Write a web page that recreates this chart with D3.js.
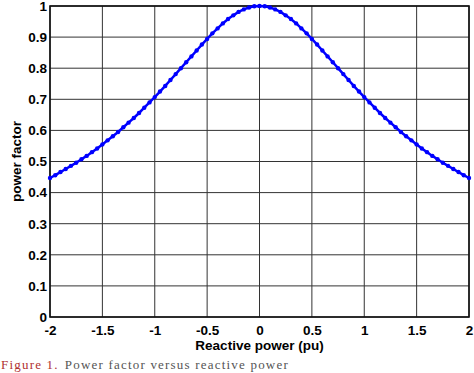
<!DOCTYPE html>
<html><head><meta charset="utf-8">
<script src="https://cdn.jsdelivr.net/npm/d3@7"></script>
<style>body{margin:0;background:#fff}svg{display:block}</style>
</head><body>
<script>
const qValues = [-2.00,-1.95,-1.90,-1.85,-1.80,-1.75,-1.70,-1.65,-1.60,-1.55,-1.50,-1.45,-1.40,-1.35,-1.30,-1.25,-1.20,-1.15,-1.10,-1.05,-1.00,-0.95,-0.90,-0.85,-0.80,-0.75,-0.70,-0.65,-0.60,-0.55,-0.50,-0.45,-0.40,-0.35,-0.30,-0.25,-0.20,-0.15,-0.10,-0.05,0.00,0.05,0.10,0.15,0.20,0.25,0.30,0.35,0.40,0.45,0.50,0.55,0.60,0.65,0.70,0.75,0.80,0.85,0.90,0.95,1.00,1.05,1.10,1.15,1.20,1.25,1.30,1.35,1.40,1.45,1.50,1.55,1.60,1.65,1.70,1.75,1.80,1.85,1.90,1.95,2.00];
const pfValues = [0.447,0.456,0.466,0.476,0.486,0.496,0.507,0.518,0.530,0.542,0.555,0.568,0.581,0.595,0.610,0.625,0.640,0.656,0.673,0.690,0.707,0.725,0.743,0.762,0.781,0.800,0.819,0.838,0.857,0.876,0.894,0.912,0.928,0.944,0.958,0.970,0.981,0.989,0.995,0.999,1.000,0.999,0.995,0.989,0.981,0.970,0.958,0.944,0.928,0.912,0.894,0.876,0.857,0.838,0.819,0.800,0.781,0.762,0.743,0.725,0.707,0.690,0.673,0.656,0.640,0.625,0.610,0.595,0.581,0.568,0.555,0.542,0.530,0.518,0.507,0.496,0.486,0.476,0.466,0.456,0.447];
const xTicks = [-2,-1.5,-1,-0.5,0,0.5,1,1.5,2];
const yTicks = [0,0.1,0.2,0.3,0.4,0.5,0.6,0.7,0.8,0.9,1];
const xLabel = "Reactive power (pu)";
const yLabel = "power factor";
const captionLead = "Figure 1.";
const captionText = "Power factor versus reactive power";

const W = 474, H = 373;
const m = {left: 50, right: 5, top: 6, bottom: 56};
const svg = d3.select("body").append("svg").attr("width", W).attr("height", H);
const x = d3.scaleLinear().domain([-2, 2]).range([m.left, W - m.right]);
const y = d3.scaleLinear().domain([0, 1]).range([H - m.bottom, m.top]);
const font = "'Liberation Sans', Arial, Helvetica, sans-serif";
const fs = 13.5;

// grid
svg.append("g").selectAll("line").data(xTicks).join("line")
  .attr("x1", d => x(d)).attr("x2", d => x(d)).attr("y1", y(0)).attr("y2", y(1))
  .attr("stroke", "#333").attr("stroke-width", 1);
svg.append("g").selectAll("line").data(yTicks).join("line")
  .attr("x1", x(-2)).attr("x2", x(2)).attr("y1", d => y(d)).attr("y2", d => y(d))
  .attr("stroke", "#333").attr("stroke-width", 1);

// axes
const fmt = d => String(d);
const xAxis = svg.append("g").attr("transform", `translate(0,${y(0)})`)
  .call(d3.axisBottom(x).tickValues(xTicks).tickSize(0).tickPadding(8).tickFormat(fmt));
const yAxis = svg.append("g").attr("transform", `translate(${x(-2)},0)`)
  .call(d3.axisLeft(y).tickValues(yTicks).tickSize(0).tickPadding(3).tickFormat(fmt));
[xAxis, yAxis].forEach(g => {
  g.select(".domain").remove();
  g.selectAll("text").attr("font-family", font).attr("font-weight", "bold").attr("font-size", fs).attr("fill", "#000");
});

// frame
svg.append("rect").attr("x", x(-2)).attr("y", y(1)).attr("width", x(2) - x(-2)).attr("height", y(0) - y(1))
  .attr("fill", "none").attr("stroke", "#111").attr("stroke-width", 1.6);

// curve
const pts = qValues.map((q, i) => [q, pfValues[i]]);
svg.append("path").datum(pts)
  .attr("d", d3.line().x(d => x(d[0])).y(d => y(d[1])))
  .attr("fill", "none").attr("stroke", "#0000ff").attr("stroke-width", 2.5);
svg.append("g").selectAll("circle").data(pts).join("circle")
  .attr("cx", d => x(d[0])).attr("cy", d => y(d[1])).attr("r", 2.2).attr("fill", "#0000ff");

// labels
svg.append("text").attr("x", (x(-2) + x(2)) / 2).attr("y", 350).attr("text-anchor", "middle")
  .attr("font-family", font).attr("font-weight", "bold").attr("font-size", fs).text(xLabel);
svg.append("text").attr("transform", `translate(21,${(y(0) + y(1)) / 2}) rotate(-90)`).attr("text-anchor", "middle")
  .attr("font-family", font).attr("font-weight", "bold").attr("font-size", fs).text(yLabel);

// caption
const cap = svg.append("text").attr("x", 1).attr("y", 369)
  .attr("font-family", "'Liberation Serif', 'Times New Roman', serif").attr("font-size", 13)
  .attr("letter-spacing", 1.2);
cap.append("tspan").attr("fill", "#b03030").text(captionLead);
cap.append("tspan").attr("fill", "#555").attr("dx", 6).text(captionText);
</script>
</body></html>
